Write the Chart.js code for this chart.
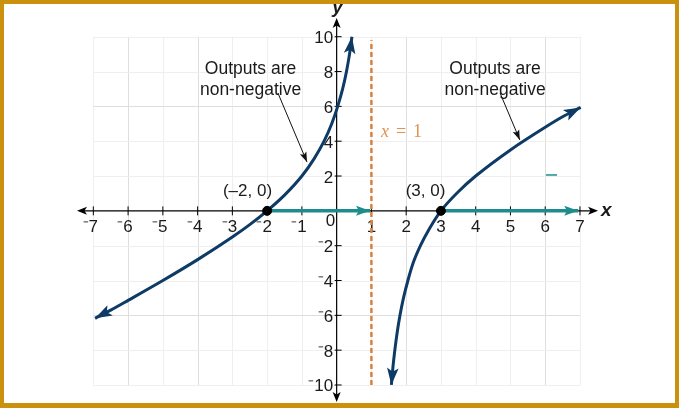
<!DOCTYPE html>
<html>
<head>
<meta charset="utf-8">
<title>Rational function graph</title>
<script src="https://cdn.jsdelivr.net/npm/chart.js@4.4.1/dist/chart.umd.min.js"></script>
<style>
  html, body { margin: 0; padding: 0; background: #ffffff; }
  #frame { position: absolute; left: 0; top: 0; width: 679px; height: 408px; box-sizing: border-box;
           border-style: solid; border-color: #c9910e; border-width: 4px 4px 5px 4px; background: #ffffff; }
  #chart { display: block; }
</style>
</head>
<body>
<div id="frame"><canvas id="chart" width="671" height="399"></canvas></div>
<script>
// ---------------- data ----------------
const xTickValues = [-7, -6, -5, -4, -3, -2, -1, 1, 2, 3, 4, 5, 6, 7];
const xTickLabels = ['\u207B7', '\u207B6', '\u207B5', '\u207B4', '\u207B3', '\u207B2', '\u207B1', '1', '2', '3', '4', '5', '6', '7'];
const yTickValues = [-10, -8, -6, -4, -2, 2, 4, 6, 8, 10];
const yTickLabels = ['\u207B10', '\u207B8', '\u207B6', '\u207B4', '\u207B2', '2', '4', '6', '8', '10'];
const originLabel = '0';
const gridXValues = [-7, -6, -5, -4, -3, -2, -1, 1, 2, 3, 4, 5, 6, 7];
const gridYValues = [-10, -8, -6, -4, -2, 2, 4, 6, 8, 10];
const gridStrongX = [-6, -4, 2, 6];
const gridStrongY = [-6, 6];

const leftBranchX = [-6.95, -6.5, -6, -5, -4, -3, -2.5, -2, -1.5, -1, -0.646, -0.362, -0.142, 0.03, 0.172, 0.283, 0.37, 0.44];
const leftBranchY = [-6.17, -5.7, -5.14, -4.0, -2.8, -1.5, -0.79, 0, 0.9, 2.0, 3.0, 4.0, 5.0, 6.0, 7.0, 8.0, 9.0, 10.0];
const rightBranchX = [1.574, 1.618, 1.674, 1.740, 1.822, 1.923, 2.05, 2.20, 2.41, 2.676, 3.0, 3.5, 4.0, 5.0, 6.0, 6.5, 7.02];
const rightBranchY = [-10, -9, -8, -7, -6, -5, -4, -3, -2, -1, 0, 1.1, 2.0, 3.5, 4.8, 5.4, 5.94];

const zeroX = [-2, 3];
const zeroY = [0, 0];
const zeroLabels = ['(\u20132, 0)', '(3, 0)'];

const domainLeftX = [-2, 0.96];
const domainLeftY = [0, 0];
const domainRightX = [3, 6.95];
const domainRightY = [0, 0];

const asymptoteX = [1, 1];
const asymptoteY = [-10, 9.8];
const asymptoteLabel = ['x', '=', '1'];

const noteLines = ['Outputs are', 'non-negative'];
const pointerLeftX = [-1.69, -0.853];
const pointerLeftY = [6.77, 2.80];
const pointerRightX = [4.70, 5.27];
const pointerRightY = [6.77, 4.07];

const tealMarkX = [6.02, 6.34];
const tealMarkY = [2.06, 2.06];

const axisLabels = ['x', 'y'];

// ---------------- layout / style (not data) ----------------
const VIEW = { xMin: -9.57, xMax: 9.734, yMin: -11.034, yMax: 11.878 };
const PLACE = {
  axisX: [-7.47, 7.52], axisY: [-10.98, 11.07],
  gridX: [-7, 7], gridY: [-10, 10],
  noteLeftX: -2.478, noteRightX: 4.556, noteY1: 7.875, noteY2: 6.681,
  zeroLabelX: [-2.565, 2.556], zeroLabelY: 0.824,
  asymX: 1.276, asymEqX: 1.851, asymOneX: 2.326, asymY: 4.241,
  originX: -0.177, originY: -0.870
};
const NAVY = '#0d3b66', TEAL = '#1e8c8c', ORANGE = '#d9823f', ORANGE_TXT = '#e3914f';
const TXT = '#1a1a1a';
const SANS = '"Liberation Sans", Arial, Helvetica, sans-serif';
const SERIF = '"Liberation Serif", "Times New Roman", serif';

const pts = (xs, ys) => xs.map((x, i) => ({ x: x, y: ys[i] }));

function drawArrow(ctx, tip, from, len, half, notch, color) {
  const a = Math.atan2(tip.y - from.y, tip.x - from.x);
  ctx.save();
  ctx.translate(tip.x, tip.y);
  ctx.rotate(a);
  ctx.fillStyle = color;
  ctx.beginPath();
  ctx.moveTo(0, 0);
  ctx.lineTo(-len, -half);
  ctx.lineTo(-len * (1 - notch), 0);
  ctx.lineTo(-len, half);
  ctx.closePath();
  ctx.fill();
  ctx.restore();
}

function seg(ctx, x1, y1, x2, y2) {
  ctx.beginPath(); ctx.moveTo(x1, y1); ctx.lineTo(x2, y2); ctx.stroke();
}

const decor = {
  id: 'decor',
  beforeDraw(chart) {
    const ctx = chart.ctx, xs = chart.scales.x, ys = chart.scales.y;
    ctx.save();
    ctx.lineWidth = 1;
    const top = ys.getPixelForValue(PLACE.gridY[1]), bot = ys.getPixelForValue(PLACE.gridY[0]);
    gridXValues.forEach(v => {
      const p = Math.round(xs.getPixelForValue(v)) + 0.5;
      ctx.strokeStyle = gridStrongX.includes(v) ? '#dedede' : '#efefef';
      seg(ctx, p, top, p, bot);
    });
    const l = xs.getPixelForValue(PLACE.gridX[0]), r = xs.getPixelForValue(PLACE.gridX[1]);
    gridYValues.forEach(v => {
      const p = Math.round(ys.getPixelForValue(v)) + 0.5;
      ctx.strokeStyle = gridStrongY.includes(v) ? '#dedede' : '#efefef';
      seg(ctx, l, p, r, p);
    });
    ctx.restore();
  },
  beforeDatasetsDraw(chart) {
    const ctx = chart.ctx, xs = chart.scales.x, ys = chart.scales.y;
    const x0 = xs.getPixelForValue(0), y0 = ys.getPixelForValue(0);
    ctx.save();
    ctx.strokeStyle = '#000';
    ctx.lineWidth = 1.2;
    const aL = xs.getPixelForValue(PLACE.axisX[0]), aR = xs.getPixelForValue(PLACE.axisX[1]);
    const aB = ys.getPixelForValue(PLACE.axisY[0]), aT = ys.getPixelForValue(PLACE.axisY[1]);
    seg(ctx, aL + 3, y0, aR - 3, y0);
    seg(ctx, x0, aT + 3, x0, aB - 3);
    drawArrow(ctx, { x: aR, y: y0 }, { x: aL, y: y0 }, 10, 4, 0.25, '#000');
    drawArrow(ctx, { x: aL, y: y0 }, { x: aR, y: y0 }, 10, 4, 0.25, '#000');
    drawArrow(ctx, { x: x0, y: aT }, { x: x0, y: aB }, 10, 4, 0.25, '#000');
    drawArrow(ctx, { x: x0, y: aB }, { x: x0, y: aT }, 10, 4, 0.25, '#000');
    // tick marks
    ctx.lineWidth = 1;
    xTickValues.forEach(v => { const p = xs.getPixelForValue(v); seg(ctx, p, y0 - 4.5, p, y0 + 4.5); });
    yTickValues.forEach(v => { const p = ys.getPixelForValue(v); seg(ctx, x0 - 2, p, x0 + 5, p); });
    // tick labels
    ctx.fillStyle = TXT;
    ctx.font = '17px ' + SANS;
    ctx.textBaseline = 'alphabetic';
    xTickValues.forEach((v, i) => {
      const lab = xTickLabels[i];
      const w = ctx.measureText(lab.replace('\u207B', '')).width;
      ctx.textAlign = 'right';
      ctx.fillText(lab, xs.getPixelForValue(v) + w / 2, y0 + 21);
    });
    yTickValues.forEach((v, i) => {
      ctx.textAlign = 'right';
      ctx.fillText(yTickLabels[i], x0 - 3.5, ys.getPixelForValue(v) + 6.5);
    });
    ctx.textAlign = 'center';
    ctx.fillText(originLabel, xs.getPixelForValue(PLACE.originX), ys.getPixelForValue(PLACE.originY));
    // axis names
    ctx.font = 'italic bold 19px ' + SANS;
    ctx.textAlign = 'left';
    ctx.fillText(axisLabels[0], aR + 3, y0 + 5);
    ctx.textAlign = 'center';
    ctx.fillText(axisLabels[1], x0 + 1, aT - 5);
    ctx.restore();
  },
  afterDatasetDraw(chart, args) {
    const ds = chart.data.datasets[args.index];
    const spec = ds.arrowSpec;
    if (!spec) return;
    const p = args.meta.data, n = p.length;
    const ctx = chart.ctx;
    spec.ends.forEach(e => {
      if (e === 'end') drawArrow(ctx, p[n - 1], p[n - 2], spec.len, spec.half, spec.notch, ds.borderColor);
      else drawArrow(ctx, p[0], p[1], spec.len, spec.half, spec.notch, ds.borderColor);
    });
  },
  afterDraw(chart) {
    const ctx = chart.ctx, xs = chart.scales.x, ys = chart.scales.y;
    ctx.save();
    ctx.fillStyle = TXT;
    ctx.textBaseline = 'alphabetic';
    ctx.textAlign = 'center';
    ctx.font = '17.5px ' + SANS;
    [PLACE.noteLeftX, PLACE.noteRightX].forEach(nx => {
      ctx.fillText(noteLines[0], xs.getPixelForValue(nx), ys.getPixelForValue(PLACE.noteY1));
      ctx.fillText(noteLines[1], xs.getPixelForValue(nx), ys.getPixelForValue(PLACE.noteY2));
    });
    ctx.font = '17px ' + SANS;
    zeroLabels.forEach((t, i) => {
      ctx.fillText(t, xs.getPixelForValue(PLACE.zeroLabelX[i]), ys.getPixelForValue(PLACE.zeroLabelY));
    });
    // asymptote label
    ctx.fillStyle = ORANGE_TXT;
    const ay = ys.getPixelForValue(PLACE.asymY);
    ctx.font = 'italic 18px ' + SERIF;
    ctx.textAlign = 'left';
    ctx.fillText(asymptoteLabel[0], xs.getPixelForValue(PLACE.asymX), ay);
    ctx.font = '18px ' + SERIF;
    ctx.textAlign = 'center';
    ctx.fillText(asymptoteLabel[1], xs.getPixelForValue(PLACE.asymEqX), ay);
    ctx.fillText(asymptoteLabel[2], xs.getPixelForValue(PLACE.asymOneX), ay);
    ctx.restore();
  }
};

const lineDefaults = { pointRadius: 0, pointHoverRadius: 0, fill: false, showLine: true };

new Chart(document.getElementById('chart'), {
  type: 'line',
  data: {
    datasets: [
      Object.assign({}, { label: 'x-intercepts', type: 'scatter', data: pts(zeroX, zeroY), pointRadius: 4.5,
        pointBackgroundColor: '#000', pointBorderColor: '#000', showLine: false, order: 0 }),
      Object.assign({}, lineDefaults, { label: 'pointer left', data: pts(pointerLeftX, pointerLeftY), borderColor: '#111',
        borderWidth: 1, order: 1, arrowSpec: { ends: ['end'], len: 10, half: 3.5, notch: 0.2 } }),
      Object.assign({}, lineDefaults, { label: 'pointer right', data: pts(pointerRightX, pointerRightY), borderColor: '#111',
        borderWidth: 1, order: 1, arrowSpec: { ends: ['end'], len: 10, half: 3.5, notch: 0.2 } }),
      Object.assign({}, lineDefaults, { label: 'left branch', data: pts(leftBranchX, leftBranchY), borderColor: NAVY,
        borderWidth: 3, cubicInterpolationMode: 'monotone', order: 2,
        arrowSpec: { ends: ['start', 'end'], len: 17, half: 5.8, notch: 0.22 } }),
      Object.assign({}, lineDefaults, { label: 'right branch', data: pts(rightBranchX, rightBranchY), borderColor: NAVY,
        borderWidth: 3, cubicInterpolationMode: 'monotone', order: 2,
        arrowSpec: { ends: ['start', 'end'], len: 17, half: 5.8, notch: 0.22 } }),
      Object.assign({}, lineDefaults, { label: 'asymptote x = 1', data: pts(asymptoteX, asymptoteY), borderColor: ORANGE,
        borderWidth: 2.5, borderDash: [5, 3], order: 3 }),
      Object.assign({}, lineDefaults, { label: 'domain left', data: pts(domainLeftX, domainLeftY), borderColor: TEAL,
        borderWidth: 3.5, order: 4, arrowSpec: { ends: ['end'], len: 14, half: 5, notch: 0.2 } }),
      Object.assign({}, lineDefaults, { label: 'domain right', data: pts(domainRightX, domainRightY), borderColor: TEAL,
        borderWidth: 3.5, order: 4, arrowSpec: { ends: ['end'], len: 14, half: 5, notch: 0.2 } }),
      Object.assign({}, lineDefaults, { label: 'mark', data: pts(tealMarkX, tealMarkY), borderColor: TEAL,
        borderWidth: 1.5, order: 5 })
    ]
  },
  options: {
    responsive: false,
    maintainAspectRatio: false,
    animation: false,
    events: [],
    layout: { padding: 0, autoPadding: false },
    plugins: { legend: { display: false }, tooltip: { enabled: false } },
    scales: {
      x: { type: 'linear', min: VIEW.xMin, max: VIEW.xMax, display: false },
      y: { type: 'linear', min: VIEW.yMin, max: VIEW.yMax, display: false }
    }
  },
  plugins: [decor]
});
</script>
</body>
</html>
